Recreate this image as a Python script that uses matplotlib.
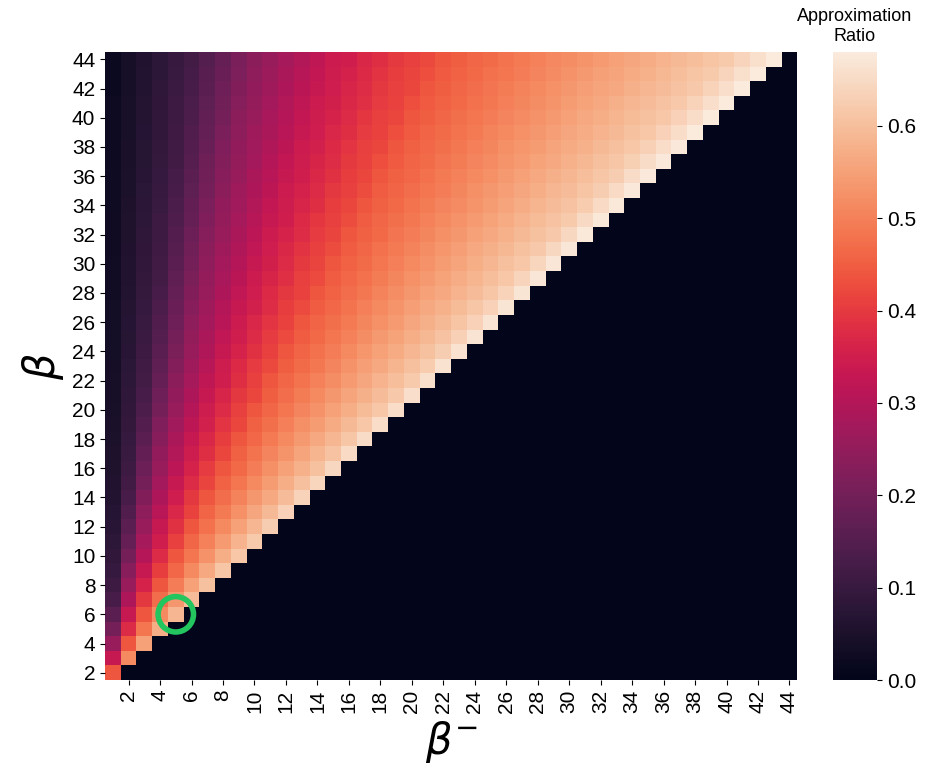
import numpy as np
import matplotlib.pyplot as plt
import seaborn as sns

plt.rcParams['font.family'] = ['Liberation Sans', 'DejaVu Sans']

# beta- values (columns) and beta values (rows)
beta_minus = np.arange(1, 45)
beta = np.arange(2, 45)

# values read along the top row (beta = 44), for beta- = 1..43
top_row = [0.02, 0.04, 0.06, 0.08, 0.10, 0.12, 0.15, 0.18, 0.21, 0.24,
           0.26, 0.28, 0.30, 0.32, 0.34, 0.35, 0.37, 0.38, 0.40, 0.41,
           0.42, 0.44, 0.45, 0.46, 0.47, 0.48, 0.49, 0.50, 0.51, 0.52,
           0.53, 0.54, 0.55, 0.56, 0.57, 0.58, 0.59, 0.60, 0.61, 0.62,
           0.64, 0.66, 0.68]
top_ratio = np.arange(1, 44) / 44.0

# the picture looks like the value depends on beta-/beta, so the other rows reuse the top row
Z = np.zeros((len(beta), len(beta_minus)))
for i, b in enumerate(beta):
    for j, bm in enumerate(beta_minus):
        if bm < b:
            Z[i, j] = np.interp(bm / b, top_ratio, top_row)

fig = plt.figure(figsize=(9.25, 7.82), dpi=100)
ax = fig.add_axes([0.1135, 0.1304, 0.7485, 0.8031])
cax = fig.add_axes([0.9005, 0.1304, 0.0476, 0.8031])

xe = np.arange(0.5, 45.5, 1)
ye = np.arange(1.5, 45.5, 1)
mesh = ax.pcolormesh(xe, ye, Z, cmap=sns.color_palette("rocket", as_cmap=True),
                     vmin=0, vmax=0.68)
ax.set_xlim(0.5, 44.5)
ax.set_ylim(1.5, 44.5)
ax.set_xticks(np.arange(2, 45, 2))
ax.set_xticklabels([str(v) for v in range(2, 45, 2)], rotation=90, fontsize=15)
ax.set_yticks(np.arange(2, 45, 2))
ax.set_yticklabels([str(v) for v in range(2, 45, 2)], fontsize=15)
for s in ax.spines.values():
    s.set_visible(False)
ax.set_xlabel(r'$\beta^{\mathsf{-}}$', fontsize=30)
ax.set_ylabel(r'$\beta$', fontsize=30)

# highlighted cell
ax.scatter([5], [6], s=650, facecolors='none', edgecolors='#22c55e', linewidths=4, zorder=5)

cb = fig.colorbar(mesh, cax=cax)
cb.outline.set_visible(False)
cb.set_ticks([0.0, 0.1, 0.2, 0.3, 0.4, 0.5, 0.6])
cb.ax.tick_params(labelsize=15)
cax.set_title('Approximation\nRatio', fontsize=13, pad=8)

fig.savefig('out.png', dpi=100)
